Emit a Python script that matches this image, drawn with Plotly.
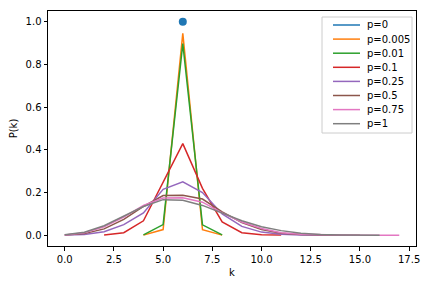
import plotly.graph_objects as go

labels = ["p=0", "p=0.005", "p=0.01", "p=0.1", "p=0.25", "p=0.5", "p=0.75", "p=1"]
colors = ["#1f77b4", "#ff7f0e", "#2ca02c", "#d62728", "#9467bd", "#8c564b", "#e377c2", "#7f7f7f"]

k_p0 = [6]
P_p0 = [1.0]
k_p0005 = [4, 5, 6, 7, 8]
P_p0005 = [0.001, 0.027, 0.945, 0.026, 0.001]
k_p001 = [4, 5, 6, 7, 8]
P_p001 = [0.002, 0.050, 0.897, 0.049, 0.002]
k_p01 = [2, 3, 4, 5, 6, 7, 8, 9, 10, 11]
P_p01 = [0.002, 0.012, 0.068, 0.250, 0.429, 0.220, 0.063, 0.012, 0.003, 0.001]
k_p025 = list(range(0, 15))
P_p025 = [0.001, 0.004, 0.017, 0.050, 0.105, 0.215, 0.250, 0.200, 0.100, 0.042, 0.015, 0.005, 0.002, 0.001, 0.0]
k_p05 = list(range(0, 16))
P_p05 = [0.002, 0.008, 0.030, 0.075, 0.135, 0.186, 0.188, 0.170, 0.110, 0.060, 0.027, 0.010, 0.004, 0.001, 0.0005, 0.0]
k_p075 = list(range(0, 18))
P_p075 = [0.002, 0.012, 0.040, 0.085, 0.140, 0.175, 0.176, 0.155, 0.105, 0.062, 0.032, 0.012, 0.005, 0.002, 0.001, 0.0005, 0.0002, 0.0001]
k_p1 = list(range(0, 17))
P_p1 = [0.003, 0.014, 0.045, 0.090, 0.135, 0.167, 0.164, 0.140, 0.103, 0.068, 0.040, 0.022, 0.010, 0.004, 0.002, 0.001, 0.0003]

series = [(k_p0, P_p0), (k_p0005, P_p0005), (k_p001, P_p001), (k_p01, P_p01),
          (k_p025, P_p025), (k_p05, P_p05), (k_p075, P_p075), (k_p1, P_p1)]

xticks = [0, 2.5, 5, 7.5, 10, 12.5, 15, 17.5]
yticks = [0, 0.2, 0.4, 0.6, 0.8, 1.0]

W, H = 432, 288
ML, MR, MT, MB = 48, 16, 11, 42
PW, PH = W - ML - MR, H - MT - MB


def px(xp):
    return (xp - ML) / PW


def py(yp):
    return (H - MB - yp) / PH


fig = go.Figure()
for (xs, ys), lab, col in zip(series, labels, colors):
    fig.add_trace(go.Scatter(x=xs, y=ys, mode="lines", name=lab, showlegend=False,
                             line=dict(color=col, width=1.5)))
fig.add_trace(go.Scatter(x=k_p0, y=P_p0, mode="markers", showlegend=False,
                         marker=dict(color=colors[0], size=8)))

# compact legend (matplotlib style)
shapes = [dict(type="rect", xref="paper", yref="paper",
               x0=px(322), x1=px(412), y0=py(133), y1=py(17),
               line=dict(color="#cccccc", width=1), fillcolor="rgba(255,255,255,0.8)",
               layer="above")]
annotations = []
for i, (lab, col) in enumerate(zip(labels, colors)):
    yc = 25 + i * 14.1
    shapes.append(dict(type="line", xref="paper", yref="paper",
                       x0=px(333), x1=px(360), y0=py(yc), y1=py(yc),
                       line=dict(color=col, width=1.5), layer="above"))
    annotations.append(dict(text=lab, xref="paper", yref="paper", x=px(365), y=py(yc),
                            xanchor="left", yanchor="middle", showarrow=False,
                            font=dict(family="DejaVu Sans", size=10, color="black")))

axis_common = dict(showline=True, linecolor="black", linewidth=1, mirror=True,
                   ticks="outside", ticklen=3.5, tickwidth=0.8, tickcolor="black",
                   showgrid=False, zeroline=False,
                   tickfont=dict(family="DejaVu Sans", size=10, color="black"))

fig.update_layout(
    width=W, height=H,
    margin=dict(l=ML, r=MR, t=MT, b=MB),
    plot_bgcolor="white", paper_bgcolor="white",
    font=dict(family="DejaVu Sans", size=10, color="black"),
    showlegend=False,
    xaxis=dict(range=[-0.85, 17.85], tickvals=xticks,
               ticktext=[f"{v:.1f}" for v in xticks],
               title=dict(text="k", font=dict(size=10), standoff=5), **axis_common),
    yaxis=dict(range=[-0.05, 1.05], tickvals=yticks,
               ticktext=[f"{v:.1f}" for v in yticks],
               title=dict(text="P(k)", font=dict(size=10), standoff=6), **axis_common),
    shapes=shapes,
    annotations=annotations,
)

fig.write_html("out.html")
